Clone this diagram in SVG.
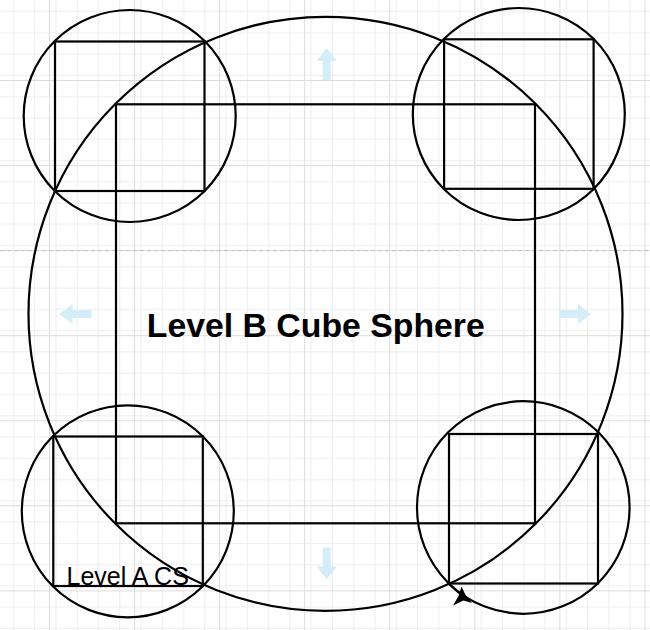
<svg xmlns="http://www.w3.org/2000/svg" width="650" height="630" viewBox="0 0 650 630">
  <style>
    .shape { fill: none; stroke: #000; stroke-width: 2.2; }
    .hint { fill: #d3edf9; }
    .title { font-family: "Liberation Sans", Arial, sans-serif; font-weight: bold; font-size: 33.8px; fill: #000; }
    .label { font-family: "Liberation Sans", Arial, sans-serif; font-size: 25px; fill: #000; }
  </style>
  <defs>
    <pattern id="minor" x="6.47" y="16.2" width="21.266" height="21.266" patternUnits="userSpaceOnUse">
      <path d="M0 0.5 H21.266 M0.5 0 V21.266" fill="none" stroke="#ececec" stroke-width="1"/>
    </pattern>
    <pattern id="major" x="-36.06" y="-5.06" width="85.064" height="85.064" patternUnits="userSpaceOnUse">
      <rect width="85.064" height="85.064" fill="url(#minor)"/>
      <path d="M0 0.5 H85.064 M0.5 0 V85.064" fill="none" stroke="#dcdcdc" stroke-width="1"/>
    </pattern>
    <path id="hintArrow" d="M0 -16 L10 -3 L4 -3 L4 16 L-4 16 L-4 -3 L-10 -3 Z"/>
  </defs>

  <rect width="650" height="630" fill="#ffffff"/>
  <rect width="650" height="630" fill="url(#major)"/>
  <line x1="0" y1="250.5" x2="650" y2="250.5" stroke="#c2c2c2" stroke-width="1" stroke-dasharray="4 3"/>

  <g id="hint-arrows" class="hint">
    <use href="#hintArrow" transform="translate(326.7,64)"/>
    <use href="#hintArrow" transform="translate(326.7,563.5) rotate(180)"/>
    <use href="#hintArrow" transform="translate(75.5,314) rotate(-90)"/>
    <use href="#hintArrow" transform="translate(575,314) rotate(90)"/>
  </g>

  <g id="level-b-sphere">
    <circle class="shape" cx="325.5" cy="313.8" r="297"/>
  </g>
  <g id="level-b-cube">
    <rect class="shape" x="116" y="104.3" width="419" height="419"/>
    <text class="title" x="315.8" y="336.5" text-anchor="middle">Level B Cube Sphere</text>
  </g>

  <g id="cs-top-left">
    <circle class="shape" cx="129.7" cy="116" r="106"/>
    <rect class="shape" x="55" y="41.5" width="149.5" height="149.5"/>
  </g>
  <g id="cs-top-right">
    <circle class="shape" cx="518.8" cy="114" r="106"/>
    <rect class="shape" x="444.1" y="39.3" width="149.5" height="149.5"/>
  </g>
  <g id="cs-bottom-left">
    <circle class="shape" cx="127.8" cy="511.3" r="106"/>
    <rect class="shape" x="53.3" y="436.5" width="149.5" height="149.5"/>
    <text class="label" x="66.5" y="584.5">Level A CS</text>
  </g>
  <g id="cs-bottom-right">
    <circle class="shape" cx="523.3" cy="507.5" r="106.3"/>
    <rect class="shape" x="449" y="434" width="149" height="149.5"/>
  </g>

  <g id="connectors">
    <line x1="449" y1="584.5" x2="461" y2="595" stroke="#000" stroke-width="1.5"/>
    <polygon points="461.5,586.5 465.5,595 472,603 463.5,600.5 453,605.5 458.5,596" fill="#000"/>
  </g>
</svg>
